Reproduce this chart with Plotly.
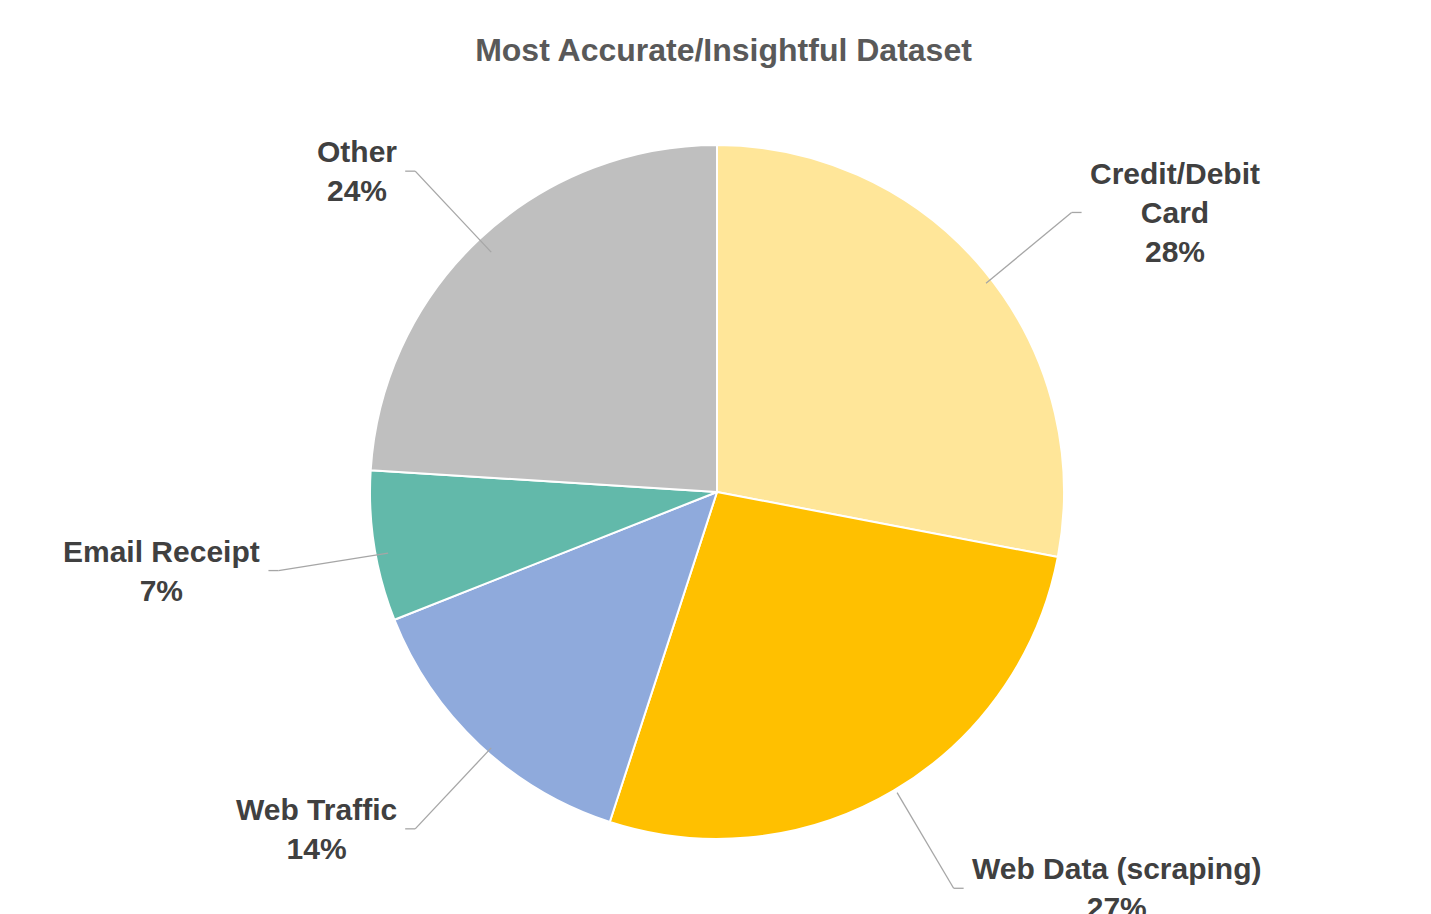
import numpy as np
import plotly.graph_objects as go

W, H = 1431, 914
labels = ["Credit/Debit<br>Card", "Web Data (scraping)", "Web Traffic", "Email Receipt", "Other"]
values = [28, 27, 14, 7, 24]
colors = ["#FFE699", "#FFC000", "#8FAADC", "#62B9AA", "#BFBFBF"]

cx, cy, r = 716, 492, 347
dx, dy = -7, -8  # plotly nudges the pie slightly, compensate in the domain

fig = go.Figure()
fig.add_trace(go.Pie(
    labels=labels, values=values, sort=False, direction="clockwise", rotation=0,
    marker=dict(colors=colors, line=dict(color="white", width=2)),
    textinfo="none", hoverinfo="label+percent", showlegend=False,
    domain=dict(x=[(cx + dx - r) / W, (cx + dx + r) / W],
                y=[(H - cy - dy - r) / H, (H - cy - dy + r) / H]),
))

# leader lines and labels derived from slice mid-angles
shapes, annos = [], []
cum = np.cumsum([0] + values)
tot = sum(values)
for i, lab in enumerate(labels):
    mid = (cum[i] + values[i] / 2) / tot * 2 * np.pi
    sx, sy = np.sin(mid), -np.cos(mid)
    x0, y0 = cx + r * 0.98 * sx, cy + r * 0.98 * sy
    x1, y1 = cx + r * 1.3 * sx, cy + r * 1.3 * sy
    side = 1 if sx >= 0 else -1
    x2 = x1 + side * 10
    for a, b, c, d in [(x0, y0, x1, y1), (x1, y1, x2, y1)]:
        shapes.append(dict(type="line", xref="x", yref="y", x0=a, y0=b, x1=c, y1=d,
                           line=dict(color="#A6A6A6", width=1.3)))
    annos.append(dict(x=x2 + side * 6, y=y1, xref="x", yref="y", showarrow=False,
                      text=f"<b>{lab}<br>{values[i]}%</b>", align="center",
                      xanchor="left" if side > 0 else "right", yanchor="middle",
                      font=dict(family="Liberation Sans, Arial", size=30, color="#404040")))

fig.update_layout(
    width=W, height=H, margin=dict(l=0, r=0, t=0, b=0),
    paper_bgcolor="white", plot_bgcolor="rgba(0,0,0,0)",
    xaxis=dict(range=[0, W], visible=False, fixedrange=True),
    yaxis=dict(range=[H, 0], visible=False, fixedrange=True),
    shapes=shapes, annotations=annos,
    title=dict(text="<b>Most Accurate/Insightful Dataset</b>", x=0.5, y=1 - 42 / H, yanchor="middle",
               font=dict(family="Liberation Sans, Arial", size=32, color="#595959")),
)
fig.write_html("out.html")
